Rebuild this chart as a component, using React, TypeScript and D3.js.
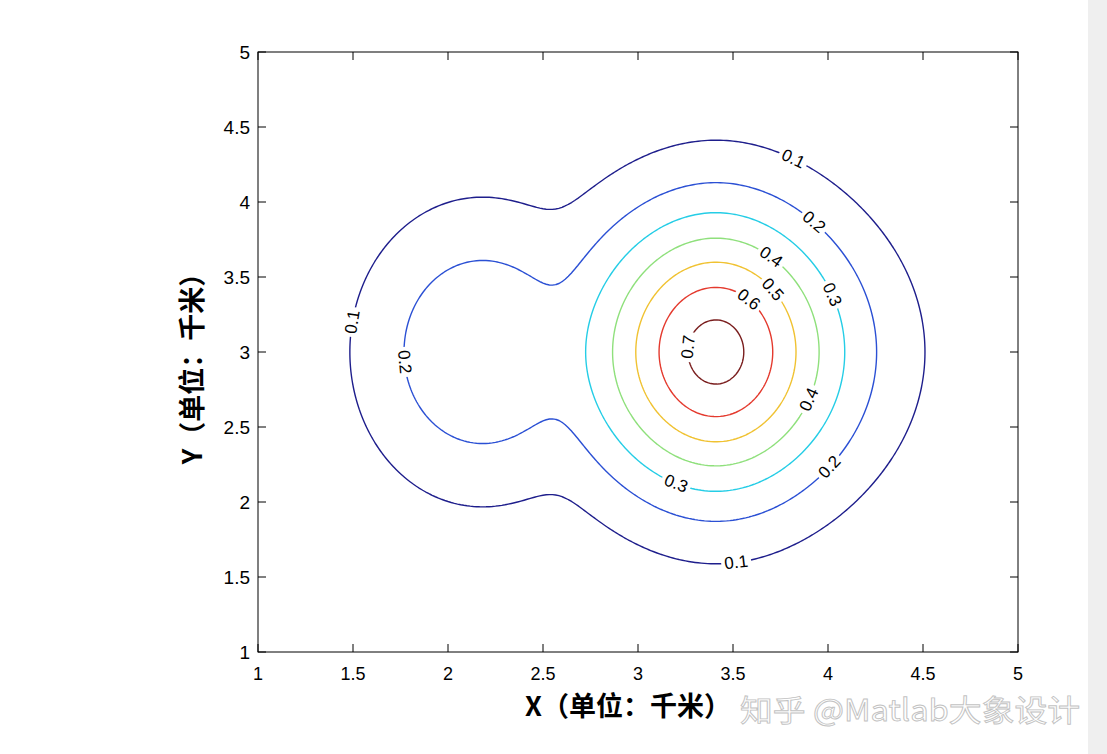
import * as d3 from "d3";
import { useMemo } from "react";

const WIDTH = 1107;
const HEIGHT = 754;
const plot = { left: 258, top: 52, right: 1018, bottom: 652 };

// contour levels and line colours (jet-like)
const levels = [0.1, 0.2, 0.3, 0.4, 0.5, 0.6, 0.7];
const levelColors = ["#1e1e8c", "#2b50d4", "#25cde6", "#8fe07c", "#f0c232", "#e43a2e", "#7a1e1e"];

// two sources: weaker one on the left, stronger one on the right
const peakX = [2.18, 3.41];
const peakY = [3.0, 3.0];
const peakHeight = [0.29, 0.74];
const spreadX = [0.675, 0.67];
const spreadY = [1.0, 0.98];
const tailX = [1, 0.66];
const falloff = [1, 0.95];
const blendPower = 4;

const xTicks = [1, 1.5, 2, 2.5, 3, 3.5, 4, 4.5, 5];
const yTicks = [1, 1.5, 2, 2.5, 3, 3.5, 4, 4.5, 5];

// clabel positions (data units)
const labelLevel = [0.1, 0.1, 0.1, 0.2, 0.2, 0.2, 0.3, 0.3, 0.4, 0.4, 0.5, 0.6, 0.7];
const labelX = [3.8, 1.5, 3.51, 3.921, 1.758, 4.021, 4.01, 3.195, 3.695, 3.905, 3.679, 3.563, 3.237];
const labelY = [4.267, 3.193, 1.6, 3.86, 2.933, 2.213, 3.367, 2.1, 3.627, 2.68, 3.393, 3.333, 3.033];

const N = 241;

function field(x: number, y: number) {
  let s = 0;
  for (let k = 0; k < peakX.length; k++) {
    const w = ((x - peakX[k]) / spreadX[k]) ** 2;
    const X = (Math.pow(1 + w, tailX[k]) - 1) / tailX[k];
    const Y = ((y - peakY[k]) / spreadY[k]) ** 2;
    s += Math.pow(peakHeight[k] * Math.exp(-Math.pow(X + Y, falloff[k])), blendPower);
  }
  return Math.pow(s, 1 / blendPower);
}

export default function App() {
  const x = d3.scaleLinear().domain([1, 5]).range([plot.left, plot.right]);
  const y = d3.scaleLinear().domain([1, 5]).range([plot.bottom, plot.top]);

  const { paths, labels } = useMemo(() => {
    const values: number[] = new Array(N * N);
    const step = 4 / (N - 1);
    for (let j = 0; j < N; j++) {
      for (let i = 0; i < N; i++) {
        values[j * N + i] = field(1 + i * step, 1 + j * step);
      }
    }
    const gx = d3.scaleLinear().domain([0.5, N - 0.5]).range([1, 5]);
    const contours = d3.contours().size([N, N]).thresholds(levels)(values);
    const line = d3.line();

    const rings = contours.map((c) =>
      c.coordinates.flatMap((poly) =>
        poly.map((ring) => ring.map((p) => [x(gx(p[0])), y(gx(p[1]))] as [number, number]))
      )
    );

    const paths = rings.map((rs, li) => ({
      color: levelColors[li],
      d: rs.map((r) => (line(r) ?? "") + "Z").join(""),
    }));

    const labels = labelLevel.map((lv, k) => {
      const li = levels.indexOf(lv);
      const tx = x(labelX[k]);
      const ty = y(labelY[k]);
      let best = { d: Infinity, r: 0, i: 0 };
      rings[li].forEach((r, ri) => {
        r.forEach((p, i) => {
          const dd = (p[0] - tx) ** 2 + (p[1] - ty) ** 2;
          if (dd < best.d) best = { d: dd, r: ri, i };
        });
      });
      const r = rings[li][best.r];
      const n = r.length;
      const a = r[(best.i - 3 + n) % n];
      const b = r[(best.i + 3) % n];
      let ang = (Math.atan2(b[1] - a[1], b[0] - a[0]) * 180) / Math.PI;
      if (ang > 90) ang -= 180;
      if (ang <= -90) ang += 180;
      const p = r[best.i];
      return { text: String(lv), x: p[0], y: p[1], ang };
    });

    return { paths, labels };
  }, []);

  const tickLen = 8;

  return (
    <svg
      width={WIDTH}
      height={HEIGHT}
      style={{ position: "absolute", left: 0, top: 0, background: "#fff" }}
      fontFamily="'Liberation Sans', Arial, sans-serif"
    >
      <rect x={1088} y={0} width={19} height={HEIGHT} fill="#efefef" />

      {paths.map((p, i) => (
        <path key={i} d={p.d} fill="none" stroke={p.color} strokeWidth={1.4} />
      ))}

      {labels.map((l, i) => (
        <g key={i} transform={`translate(${l.x},${l.y}) rotate(${l.ang})`}>
          <rect x={-15} y={-8} width={30} height={16} fill="#fff" />
          <text textAnchor="middle" dominantBaseline="central" fontSize={17} fill="#000">
            {l.text}
          </text>
        </g>
      ))}

      <rect
        x={plot.left}
        y={plot.top}
        width={plot.right - plot.left}
        height={plot.bottom - plot.top}
        fill="none"
        stroke="#000"
        strokeWidth={1}
      />

      {xTicks.map((t) => (
        <g key={"x" + t}>
          <line x1={x(t)} x2={x(t)} y1={plot.bottom} y2={plot.bottom - tickLen} stroke="#000" />
          <line x1={x(t)} x2={x(t)} y1={plot.top} y2={plot.top + tickLen} stroke="#000" />
          <text x={x(t)} y={680} textAnchor="middle" fontSize={18} fill="#000">
            {t}
          </text>
        </g>
      ))}
      {yTicks.map((t) => (
        <g key={"y" + t}>
          <line x1={plot.left} x2={plot.left + tickLen} y1={y(t)} y2={y(t)} stroke="#000" />
          <line x1={plot.right} x2={plot.right - tickLen} y1={y(t)} y2={y(t)} stroke="#000" />
          <text x={250} y={y(t)} dy="0.35em" textAnchor="end" fontSize={19} fill="#000">
            {t}
          </text>
        </g>
      ))}

      <text
        x={628}
        y={704}
        textAnchor="middle"
        dominantBaseline="central"
        fontSize={27}
        fontWeight="bold"
        fontFamily="'Noto Sans CJK SC', sans-serif"
        fill="#000"
      >
        X（单位：千米）
      </text>
      <text
        transform="translate(190,362) rotate(-90)"
        textAnchor="middle"
        dominantBaseline="central"
        fontSize={27}
        fontWeight="bold"
        fontFamily="'Noto Sans CJK SC', sans-serif"
        fill="#000"
      >
        Y（单位：千米）
      </text>

      <text
        x={740}
        y={721}
        fontSize={30}
        fontFamily="'Noto Sans CJK SC', sans-serif"
        fill="#fff"
        stroke="#c2c2c2"
        strokeWidth={0.9}
        textLength={340}
        lengthAdjust="spacingAndGlyphs"
      >
        知乎 @Matlab大象设计
      </text>
    </svg>
  );
}
